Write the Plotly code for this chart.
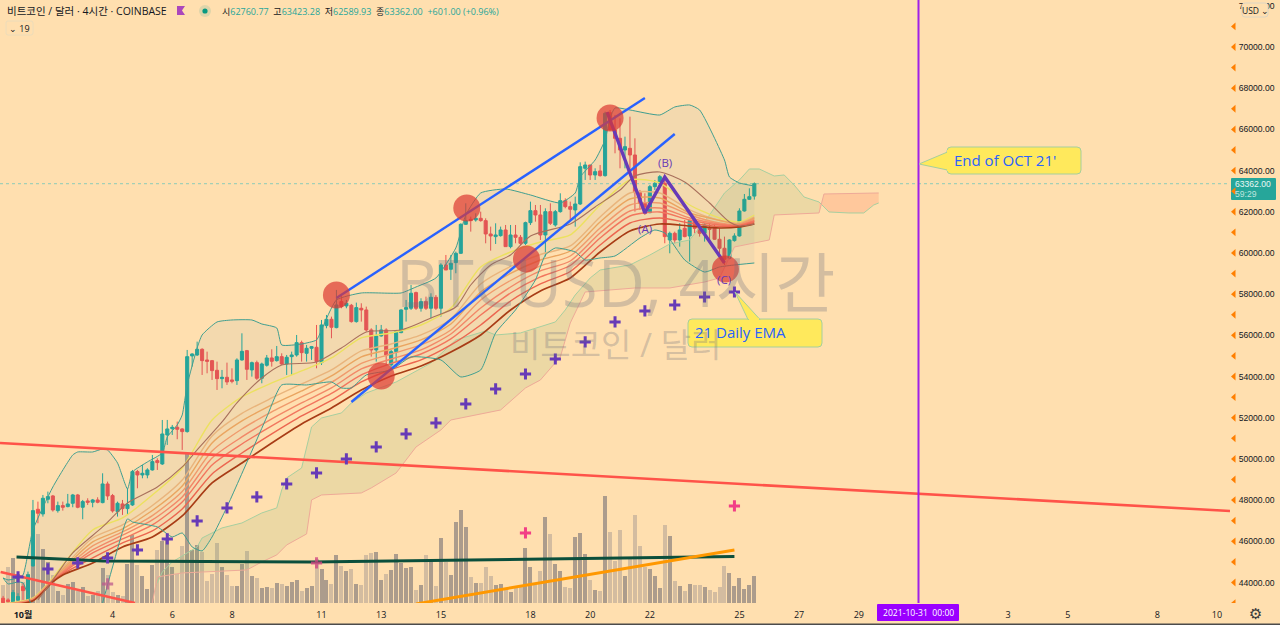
import plotly.graph_objects as go
import pandas as pd

# ---------- candles (4h bars, index -4 = 30 Sep 08:00) ----------
first_index = -4
opens = [43235,43154,43073,43154,43801,43154,44804,47555,47328,48040,48202,47490,47733,47684,47846,48250,47652,47959,47895,48008,
 47878,48784,48218,47442,47814,47587,47765,49383,49221,49221,49464,49917,49755,51164,51471,51536,51455,51326,54999,55047,
 55322,54804,54772,54303,53898,53963,53834,53801,54804,55257,54319,54675,53915,54546,54902,54772,54966,54610,54966,55047,
 55646,55128,55371,55419,54675,56472,56780,56375,57637,57427,57459,56666,57314,57233,56262,55291,55971,56262,54563,55210,
 56133,57265,57314,58074,57314,57637,57314,57848,57314,59417,59207,59530,59983,61391,61634,61601,61682,61569,60922,60793,
 60841,61116,60307,60873,60760,60469,61472,62054,61844,60873,62006,61359,62006,62540,62249,62087,62378,64110,64272,63786,
 63981,63754,66812,65971,65566,65000,65081,64757,62929,62411,61958,63220,63382,63382,60631,60955,60631,61198,60825,61602,
 61198,60955,61198,61198,60664,60227,59742,60599,60825,62039,62605,62760.77]
highs = [43348,43235,43639,43478,43963,44529,48008,47927,48250,48412,48250,47927,47927,48299,48299,48299,48008,48089,48056,48137,
 49302,48898,48299,47927,48008,48574,49464,49464,49707,49545,50192,50030,51891,51892,51649,51811,51488,55290,55128,55694,
 55371,55209,54804,54724,54319,54675,54400,54885,56099,55290,54724,54772,54675,55047,55322,55484,55128,55047,55209,56018,
 55743,55533,55484,56503,56746,56990,56909,58204,57961,57718,57524,57589,57556,57395,56343,56505,56505,56343,55291,56262,
 57265,57718,58446,58123,57799,57880,58042,57961,59500,59902,59902,60064,61440,62410,61763,61925,62006,61682,61278,61440,
 61278,61359,61359,61359,60873,61520,62491,62330,62330,62168,62410,62087,62896,62653,62491,62734,64400,64434,64272,64110,
 64272,66860,66942,66699,66537,65647,66618,65566,63058,62897,63301,63544,63787,63706,61036,61036,61440,61602,61602,61635,
 61440,61440,61440,61440,61198,60793,60664,60955,62168,62864,63139,63423.28]
lows = [42960,42992,42960,43024,43154,43073,44772,46875,47199,47846,47442,47393,47490,47652,47652,47603,47069,47765,47652,47846,
 47846,48008,47393,47199,47280,47280,47717,48574,49059,49059,49432,49464,49707,50678,51164,50954,50436,51277,54481,54999,
 54076,54157,53834,53348,53429,53591,53672,53591,54772,53834,53995,53834,53672,54481,54481,54724,54562,54076,54076,54966,
 54724,54724,54805,54400,54562,56343,55857,56343,57314,57314,56618,56618,56666,56181,54968,54725,55938,54563,54482,54725,
 56100,56667,57233,57233,57152,57233,56828,57233,56909,59174,58689,59013,59951,61359,61035,61520,61520,60469,60113,60436,
 60792,60307,60226,60469,60388,60388,61359,61520,60631,59822,61359,61278,61957,62168,61601,61278,62330,63544,63544,63544,
 63706,63706,65971,64838,64110,64110,63948,62007,62088,61845,61926,63058,63301,60470,59984,60470,60308,60761,59580,60955,
 60793,60550,60631,60631,59822,59418,59693,60550,60793,62007,62573,62589.93]
closes = [43024,43073,43510,43316,43607,44367,47490,47361,48089,48170,47522,47733,47652,47814,48250,47652,47927,47895,48008,47895,
 48784,48202,47474,47846,47587,47781,49383,49221,49302,49464,49869,49820,51211,51455,51536,51439,51326,54966,55096,55322,
 54772,54740,54287,53898,53963,53737,53769,54804,55225,54351,54675,53915,54610,54902,54740,54966,54610,54934,55047,55646,
 55160,55371,55452,54724,56503,56780,56392,57476,57395,57556,56666,57346,57233,56262,55291,55971,56262,55049,55210,56181,
 57233,57346,58042,57314,57637,57314,57848,57314,59417,59174,59498,59983,61391,61569,61569,61682,61569,60922,60825,60873,
 61116,60307,60873,60760,60469,61472,62054,61844,60873,62006,61440,62006,62540,62249,62119,62378,64191,64272,63786,63948,
 63754,66780,65971,65566,65000,65162,64757,62929,62411,61926,63220,63382,63706,60793,60955,60631,61117,60793,61570,61198,
 60955,61360,61149,60664,60227,59693,60631,60825,62039,62605,62735,63362.00]
volumes = [54,107,135,87,62,87,112,207,162,124,84,35,24,57,64,37,49,22,24,37,104,84,32,24,20,117,205,114,80,42,
 114,160,186,192,107,86,172,447,159,174,154,67,87,179,107,84,52,52,117,155,82,74,46,49,44,59,57,52,64,69,
 37,45,50,132,102,70,57,144,110,95,102,57,55,145,150,154,68,88,100,147,121,106,107,40,54,144,127,50,195,124,
 84,244,280,229,77,59,60,109,81,53,58,42,33,45,47,165,109,54,97,258,208,117,95,47,44,199,209,147,70,38,
 36,320,212,127,219,80,132,265,171,107,102,80,46,234,202,65,50,37,56,53,53,47,39,34,48,110,90,51,76,42,53,81]

# ---------- EMA ribbon ----------
ema_index = [-4,2,6,8,14,20,26,32,38,44,50,56,62,68,74,80,86,92,98,104,110,116,122,128,134,140,144,147]
ema_1 = [42958,43249,44220,44851,46551,47133,48250,49561,51891,53008,53687,54270,54901,55872,56115,56503,57329,59319,60047,60533,60873,62329,63543,63397,62329,61698,61504,61844]
ema_2 = [42950,43220,44172,44706,46162,46793,47740,48978,51114,52207,52959,53639,54319,55241,55581,56018,56795,58494,59343,59926,60339,61747,62912,62912,62087,61577,61455,61747]
ema_3 = [42940,43200,44147,44633,45968,46599,47497,48687,50774,51843,52619,53299,54027,54950,55338,55775,56552,58105,59003,59659,60096,61504,62620,62669,61941,61590,61407,61698]
ema_4 = [42930,43176,44123,44560,45774,46453,47250,48420,50385,51454,52279,53008,53716,54637,55095,55533,56260,57717,58663,59368,59853,61212,62329,62426,61844,61455,61382,61650]
ema_5 = [42910,43152,44099,44512,45580,46300,47036,48153,50046,51066,51940,52716,53445,54367,54853,55290,56066,57329,58348,59125,59610,60970,62038,62184,61698,61407,61358,61577]
ema_6 = [42900,43137,44075,44463,45434,46114,46793,47910,49707,50725,51600,52425,53177,54076,54637,55095,55824,56989,58057,58834,59392,60727,61795,61990,61601,61358,61334,61553]
ema_7 = [42885,43123,44050,44415,45191,45920,46502,47570,49270,50288,51211,52085,52838,53736,54343,54804,55533,56503,57668,58494,59100,60387,61455,61698,61455,61285,61310,61480]
ema_8 = [42861,43108,44026,44366,44949,45726,46210,47230,48832,49803,50774,51697,52474,53348,54027,54513,55192,56018,57232,58154,58785,60047,61067,61407,61310,61212,61261,61407]
ema_colors = ["#ece15f","#e9b47c","#eaa560","#f09a6c","#f28868","#f2765e","#ec6650","#a83c16"]

# ---------- Bollinger ----------
bb_up_index = [-4,-3,-1,0,2,6,10,11,14,16,17,19,21,22,25,28,29,31,32,33,35,36,39,42,46,48,51,52,56,59,60,63,68,76,79,83,87,89,92,97,102,108,111,112,115,117,118,119,122,128,131,134,136,141,142,144,147]
bb_upper = [44220,44123,44220,44366,46551,48638,50191,50337,50337,50483,50434,49803,48541,49367,49852,50288,51066,51649,52133,53590,55386,56018,56649,56746,56746,56552,56358,55533,55581,55775,56260,57717,58057,58057,58348,58785,60242,61844,62912,63106,62815,62426,62912,63689,64514,65485,66553,67039,66942,66699,67087,67184,66942,64514,63689,63397,63252]
bb_lo_index = [-4,-3,-1,0,2,6,10,14,16,18,21,22,27,30,32,34,36,38,41,46,49,52,57,62,64,66,69,74,78,84,88,92,95,99,103,105,107,111,113,116,119,124,127,129,133,137,140,143,147]
bb_lower = [44220,43929,44026,43977,42667,40724,40482,41210,43006,44754,47085,46939,46696,46210,46405,45726,45531,46210,47667,50385,52036,53590,53590,53736,53445,53445,54076,54319,54950,54804,53979,54319,56115,57232,58688,59902,60242,60047,59659,59756,59853,60727,61115,60970,59659,59076,59319,59416,59513]
bb_mid_index = [3,6,10,16,21,27,32,35,40,43,48,52,59,64,69,76,82,87,90,94,98,102,110,115,120,123,128,133,138,142,144,147]
bb_basis = [43152,44123,45434,46696,47861,48638,49609,50434,51794,52716,53930,54561,54707,55386,56163,56260,56843,57377,58445,59417,59902,60824,61407,62232,63057,63738,63932,63446,62426,61504,61310,61407]

# ---------- Ichimoku cloud ----------
span_a_index = [27,28,30,35,36,40,44,48,51,52,53,56,58,60,64,66,69,75,82,87,93,95,100,107,109,111,114,116,122,126,130,134,138,141,144,146,148,151,153,155,157,160,162,166,169,171,172]
span_a = [43977,44511,44997,45726,46162,46648,46890,47376,47619,48492,49074,49560,51551,51988,52230,52716,53202,53736,54658,55775,56212,56018,56116,56649,57232,57960,58785,59173,59416,59901,60436,60630,61844,62912,63543,64077,64077,63737,63786,63300,62717,62475,61990,61941,61941,62329,62426]
span_b_index = [26,27,32,36,45,48,51,53,57,58,60,68,70,75,79,84,86,96,101,104,108,110,113,123,130,137,140,143,147,150,151,159,160,161,172]
span_b = [43006,44269,44463,44511,44609,44997,45337,45823,46356,48007,48250,48347,48590,49318,50580,51405,51891,52376,53445,53833,54950,56600,58105,58300,58300,58590,58785,60290,60484,60630,61844,61941,61941,62863,62912]

# ---------- markers ----------
plus_index = [-1,5,11,17,23,29,35,41,47,53,59,65,71,77,83,89,95,101,107,113,119,125,131,137,143]
plus_price = [44269,44658,44949,45191,45580,46114,46988,47619,48153,48784,49318,49997,50580,51211,51746,52668,53396,54124,54852,55678,56649,57183,57474,57862,58105]
pink_index = [17,59,101,143]
pink_price = [43929,44949,46405,47716]
pink_colors = ["rgba(190,90,140,.75)","rgba(210,70,130,.8)","#f23f86","#f23f86"]
circle_index = [63,72,89.2,101.2,118,141.2]
circle_price = [57960,54027,62184,59707,66553,59222]

# ---------- drawn lines ----------
red_long_price = [50774,47473]
red_short_index = [-4.5,22.5]
red_short_price = [44511,43006]
green_index = [-1.3,16,58,143]
green_price = [45240,45045,44997,45260]
orange_index = [79,143]
orange_price = [42958,45580]
blue_up_index = [63,125]
blue_up_price = [57814,67524]
blue_lo_index = [66,131]
blue_lo_price = [52765,65776]
abc_index = [117.4,125,129,141]
abc_price = [66844,61941,63689,59513]
thousand_levels = list(range(43000,72000,1000))

# ---------- axis ----------
date_ticks = ["2021-10-01","2021-10-04","2021-10-06","2021-10-08","2021-10-11","2021-10-13","2021-10-15","2021-10-18","2021-10-20","2021-10-22","2021-10-25","2021-10-27","2021-10-29","2021-11-03","2021-11-05","2021-11-08","2021-11-10"]
date_labels = ["<b>10월</b>","4","6","8","11","13","15","18","20","22","25","27","29","3","5","8","10"]
price_ticks = list(range(44000,74000,2000))
x_start, x_end = "2021-09-30 05:30","2021-11-10 10:27"
y_low, y_high = 43004, 72282
vline_date = "2021-10-31 00:00"
last_price = 63362.00

BG = "#FFDFAF"
FONT = "Open Sans, Noto Sans CJK KR, sans-serif"
TICKFONT = "Liberation Sans, sans-serif"
T0 = pd.Timestamp("2021-10-01")
def when(i):
    return (T0 + pd.Timedelta(hours=4*i)).strftime("%Y-%m-%d %H:%M")
def times(idx):
    return [when(i) for i in idx]
def px(x): return x/1230
def py(y): return 1-y/603

candle_times = times(range(first_index, first_index+len(opens)))
fig = go.Figure()

vol_colors = ["rgba(90,90,105,.5)" if c >= o else "rgba(110,110,125,.3)" for o,c in zip(opens,closes)]
fig.add_bar(x=candle_times, y=volumes, marker_color=vol_colors, marker_line_width=0, width=4*3600*1000*0.8, yaxis="y", xaxis="x")

def ln(x,y,color,width,shape="linear",dash=None,smoothing=None,**kw):
    line=dict(color=color,width=width,shape=shape,dash=dash)
    if smoothing is not None: line["smoothing"]=smoothing
    fig.add_scatter(x=x,y=y,mode="lines",yaxis="y2",line=line,**kw)

# bollinger fill
ln(times(bb_lo_index),bb_lower,"rgba(0,0,0,0)",0)
ln(times(bb_up_index),bb_upper,"rgba(0,0,0,0)",0,fill="tonexty",fillcolor="rgba(40,130,170,.055)")
# cloud fill
a_cut = span_a_index.index(160)+1; b_cut = span_b_index.index(160)+1
ln(times(span_b_index[:b_cut]),span_b[:b_cut],"rgba(0,0,0,0)",0)
ln(times(span_a_index[:a_cut]),span_a[:a_cut],"rgba(0,0,0,0)",0,fill="tonexty",fillcolor="rgba(67,160,71,.10)")
ln(times(span_a_index[a_cut-1:]),span_a[a_cut-1:],"rgba(0,0,0,0)",0)
ln(times(span_b_index[b_cut-1:]),span_b[b_cut-1:],"rgba(0,0,0,0)",0,fill="tonexty",fillcolor="rgba(255,110,80,.20)")
ln(times(span_a_index),span_a,"#a7cfa0",1)
ln(times(span_b_index),span_b,"#eeaa98",1)

# ribbon
for k,(vals,col) in enumerate(zip([ema_1,ema_2,ema_3,ema_4,ema_5,ema_6,ema_7,ema_8],ema_colors)):
    ln(times(ema_index),vals,col,1.7 if k==7 else 1.4,shape="spline",smoothing=0.7)
# bollinger lines
ln(times(bb_mid_index),bb_basis,"#a8705c",1.1,shape="spline",smoothing=0.7)
ln(times(bb_up_index),bb_upper,"#3f9e90",1,shape="spline",smoothing=0.5)
ln(times(bb_lo_index),bb_lower,"#3f9e90",1,shape="spline",smoothing=0.5)

# trend lines under candles
ln([x_start,x_end],red_long_price,"#ff5349",2.6)
ln(times(red_short_index),red_short_price,"#ff5349",2.6)
ln(times(green_index),green_price,"#0b4f3c",3)
ln(times(orange_index),orange_price,"#ff9800",3)

fig.add_candlestick(x=candle_times,open=opens,high=highs,low=lows,close=closes,yaxis="y2",xaxis="x",
    increasing=dict(line=dict(color="#26a69a",width=1),fillcolor="#26a69a"),
    decreasing=dict(line=dict(color="#ef5350",width=1),fillcolor="#ef5350"),whiskerwidth=0)

ln(times(blue_up_index),blue_up_price,"#2962ff",2.4)
ln(times(blue_lo_index),blue_lo_price,"#2962ff",2.4)
ln(times(abc_index),abc_price,"#673ab7",3.4)

fig.add_scatter(x=times(plus_index),y=plus_price,mode="markers",yaxis="y2",
    marker=dict(symbol="cross-thin",size=8,line=dict(color="#673ab7",width=3)))
fig.add_scatter(x=times(pink_index),y=pink_price,mode="markers",yaxis="y2",
    marker=dict(symbol="cross-thin",size=8,color=pink_colors,line=dict(color=pink_colors,width=3)))
fig.add_scatter(x=times(circle_index),y=circle_price,mode="markers",yaxis="y2",
    marker=dict(symbol="circle",size=27,color="rgba(220,55,50,.70)",line_width=0))

shapes=[]
def rrect(x0,y0,x1,y1,r):
    a,b,c,d=px(x0),py(y0),px(x1),py(y1)
    rx,ry=r/1230,r/603
    return (f"M {a+rx} {b} L {c-rx} {b} Q {c} {b} {c} {b-ry} L {c} {d+ry} Q {c} {d} {c-rx} {d} "
            f"L {a+rx} {d} Q {a} {d} {a} {d+ry} L {a} {b-ry} Q {a} {b} {a+rx} {b} Z")
def poly(pts):
    return "M "+" L ".join(f"{px(x)} {py(y)}" for x,y in pts)+" Z"
def pshape(path,fill,line="rgba(0,0,0,0)",w=1,layer="above"):
    shapes.append(dict(type="path",xref="paper",yref="paper",path=path,fillcolor=fill,line=dict(color=line,width=w),layer=layer))

# last price dotted
shapes.append(dict(type="line",xref="paper",x0=0,x1=1,yref="y2",y0=last_price,y1=last_price,line=dict(color="#8ccbb8",width=1,dash="dot"),layer="below"))
# vertical
shapes.append(dict(type="line",xref="x",x0=vline_date,x1=vline_date,yref="paper",y0=0,y1=1,line=dict(color="#a020e8",width=2)))
pshape(rrect(877,604,959,621,1),"#9a00ff")
# callouts
YEL="#ffe95c"; EDGE="#a5cf9e"
pshape(rrect(947,147,1081,174,4),YEL,EDGE)
pshape(poly([(947.5,152),(919,164),(947.5,170)]),YEL,EDGE)
pshape(rrect(947,150,949,171,0),YEL)
pshape(rrect(688,319,822,347,4),YEL,EDGE)
pshape(poly([(748,319.5),(735,292),(760,319.5)]),YEL,EDGE)
pshape(rrect(749,318,759,321,0),YEL)
# price tag
pshape(rrect(1231,178,1276,200,1),"#26a69a",layer="below")
# orange scale markers, one per 1000
for lvl in thousand_levels:
    shapes.append(dict(type="path",xref="paper",yref="y2",fillcolor="#ff7f00",line_width=0,
        path=f"M {px(1231)} {lvl} L {px(1235.5)} {lvl+190} L {px(1235.5)} {lvl-190} Z"))
# header icons
pshape("M %f %f L %f %f L %f %f L %f %f L %f %f Z"%(px(177),py(6),px(185),py(6),px(182),py(10.5),px(185),py(15),px(177),py(15)),"#ab47bc")
for r,c in ((6,"rgba(0,150,136,.13)"),(2.6,"#089981")):
    shapes.append(dict(type="circle",xref="paper",yref="paper",x0=px(205-r),x1=px(205+r),y0=py(11+r),y1=py(11-r),fillcolor=c,line_width=0))
pshape(rrect(6,21,33,35,2),"rgba(0,0,0,0)","#ecdcba")
pshape(rrect(1242,3,1268,17,3),BG,"#dcd5c4")
# bottom edge
shapes.append(dict(type="line",xref="paper",yref="paper",x0=0,x1=1280/1230,y0=py(624.3),y1=py(624.3),line=dict(color="#4b4b4b",width=1.5)))

anns=[]
def note(x,y,text,size=10,color="#131722",anchor="left",family=FONT,**kw):
    anns.append(dict(xref="paper",yref="paper",x=px(x),y=py(y),text=text,showarrow=False,xanchor=anchor,yanchor="middle",
        font=dict(size=size,color=color,family=family),**kw))
note(615,282,"BTCUSD, 4시간",65,"rgba(110,112,125,.30)","center")
note(615,344,"비트코인 / 달러",33,"rgba(110,112,125,.30)","center")
note(5,11,"비트코인 / 달러 · 4시간 · COINBASE",10.5)
T='<span style="color:#26a69a">%s</span>'
note(220,11,"시"+T%"62760.77"+"  고"+T%"63423.28"+"  저"+T%"62589.93"+"  종"+T%"63362.00"+"  "+T%"+601.00 (+0.96%)",9)
note(19.5,28,"⌄ 19",9,anchor="center")
note(1255,10,"USD ⌄",8.5,anchor="center")
note(1233,184,"63362.00",8.6,"#e8f6f3",family=TICKFONT)
note(1233,194,"59:29",8.6,"#bfe5de",family=TICKFONT)
note(918,613,"2021-10-31  00:00",8.6,"#ffffff","center")
note(952,160,"End of OCT 21'",15,"#2962ff")
note(693,332,"21 Daily EMA",15,"#2962ff")
note(645,229,"(A)",11.5,"#673ab7","center")
note(665,162,"(B)",11.5,"#673ab7","center")
note(724,279,"(C)",11.5,"#673ab7","center")
note(1255,614,"⚙",15,"#3a3a3a","center",family="DejaVu Sans")

fig.update_layout(width=1280,height=625,margin=dict(l=0,r=50,t=0,b=22),paper_bgcolor=BG,plot_bgcolor=BG,
    showlegend=False,bargap=0,boxgap=0.12,shapes=shapes,annotations=anns,hovermode=False,
    xaxis=dict(type="date",range=[x_start,x_end],tickmode="array",tickvals=date_ticks,ticktext=date_labels,showgrid=False,zeroline=False,
        rangeslider=dict(visible=False),ticks="outside",ticklen=3,tickcolor="rgba(0,0,0,0)",tickfont=dict(size=9,color="#131722",family=FONT),showline=False),
    yaxis=dict(range=[0,1809],visible=False,fixedrange=True),
    yaxis2=dict(range=[y_low,y_high],overlaying="y",side="right",anchor="x",tickmode="array",tickvals=price_ticks,
        ticktext=[f"{v:.2f}" for v in price_ticks],showgrid=False,zeroline=False,ticks="outside",ticklen=6,tickcolor="rgba(0,0,0,0)",
        tickfont=dict(size=8.6,color="#131722",family=TICKFONT),showline=False))
fig.write_html("out.html",post_script="document.body.style.margin='0';document.body.style.background='%s';"%BG,config={"displayModeBar":False})
